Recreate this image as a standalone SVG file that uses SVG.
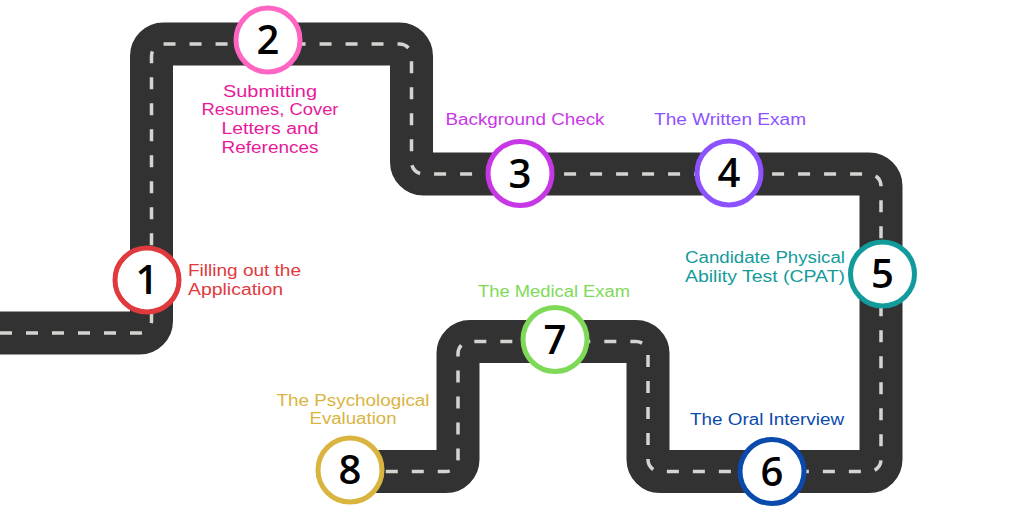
<svg xmlns="http://www.w3.org/2000/svg" width="1024" height="512" viewBox="0 0 1024 512">
  <style>
    .road{fill:none;stroke:#323232;stroke-width:43}
    .lane{fill:none;stroke:#d3d6d0;stroke-width:3.5;stroke-dasharray:12 14}
    .ring{fill:#ffffff;stroke-width:5}
    .num{font-family:"Open Sans","DejaVu Sans",sans-serif;font-weight:600;font-size:40px;fill:#000000;text-anchor:middle}
    .lbl{font-family:"Liberation Sans","Arial",sans-serif;font-size:16px;text-anchor:middle}
    .start{text-anchor:start}
  </style>
  <rect width="1024" height="512" fill="#ffffff"/>
  <g id="connectors">
    <path id="road" class="road" d="M0,333 H139.5 A12,12 0 0 0 151.5,321 V56 A12,12 0 0 1 163.5,44 H399.5 A12,12 0 0 1 411.5,56 V162 A12,12 0 0 0 423.5,174 H869 A12,12 0 0 1 881,186 V459.5 A12,12 0 0 1 869,471.5 H660 A12,12 0 0 1 648,459.5 V353.5 A12,12 0 0 0 636,341.5 H470 A12,12 0 0 0 458,353.5 V459.5 A12,12 0 0 1 446,471.5 H350"/>
    <path id="lane" class="lane" d="M0,333 H139.5 A12,12 0 0 0 151.5,321 V56 A12,12 0 0 1 163.5,44 H399.5 A12,12 0 0 1 411.5,56 V162 A12,12 0 0 0 423.5,174 H869 A12,12 0 0 1 881,186 V459.5 A12,12 0 0 1 869,471.5 H660 A12,12 0 0 1 648,459.5 V353.5 A12,12 0 0 0 636,341.5 H470 A12,12 0 0 0 458,353.5 V459.5 A12,12 0 0 1 446,471.5 H350"/>
  </g>
  <g id="step1">
    <circle class="ring" cx="147" cy="280" r="32" stroke="#e03a3e"/>
    <text class="num" x="147" y="294">1</text>
    <text class="lbl start" x="188" y="276" fill="#e03a3e" textLength="113" lengthAdjust="spacingAndGlyphs">Filling out the</text>
    <text class="lbl start" x="188" y="294.5" fill="#e03a3e" textLength="95" lengthAdjust="spacingAndGlyphs">Application</text>
  </g>
  <g id="step2">
    <circle class="ring" cx="268" cy="40" r="32" stroke="#ff66c4"/>
    <text class="num" x="268" y="54">2</text>
    <text class="lbl" x="270" y="96.5" fill="#e8199a" textLength="94" lengthAdjust="spacingAndGlyphs">Submitting</text>
    <text class="lbl" x="270" y="115" fill="#e8199a" textLength="137" lengthAdjust="spacingAndGlyphs">Resumes, Cover</text>
    <text class="lbl" x="270" y="133.5" fill="#e8199a" textLength="97" lengthAdjust="spacingAndGlyphs">Letters and</text>
    <text class="lbl" x="270" y="152.5" fill="#e8199a" textLength="97" lengthAdjust="spacingAndGlyphs">References</text>
  </g>
  <g id="step3">
    <circle class="ring" cx="520" cy="173.5" r="32" stroke="#c837e6"/>
    <text class="num" x="520" y="187.5">3</text>
    <text class="lbl" x="525" y="125" fill="#c837e6" textLength="159" lengthAdjust="spacingAndGlyphs">Background Check</text>
  </g>
  <g id="step4">
    <circle class="ring" cx="729" cy="173" r="32" stroke="#8c52ff"/>
    <text class="num" x="729" y="187">4</text>
    <text class="lbl" x="730" y="125" fill="#8c52ff" textLength="152" lengthAdjust="spacingAndGlyphs">The Written Exam</text>
  </g>
  <g id="step5">
    <circle class="ring" cx="882.5" cy="274" r="32" stroke="#139b9b"/>
    <text class="num" x="882.5" y="288">5</text>
    <text class="lbl" x="765" y="263" fill="#139b9b" textLength="160" lengthAdjust="spacingAndGlyphs">Candidate Physical</text>
    <text class="lbl" x="765" y="282" fill="#139b9b" textLength="160" lengthAdjust="spacingAndGlyphs">Ability Test (CPAT)</text>
  </g>
  <g id="step6">
    <circle class="ring" cx="772" cy="471.5" r="32" stroke="#0a4aad"/>
    <text class="num" x="772" y="485.5">6</text>
    <text class="lbl" x="767" y="425" fill="#0a4aad" textLength="154" lengthAdjust="spacingAndGlyphs">The Oral Interview</text>
  </g>
  <g id="step7">
    <circle class="ring" cx="555" cy="339.5" r="32" stroke="#7ed957"/>
    <text class="num" x="555" y="353.5">7</text>
    <text class="lbl" x="554" y="297" fill="#7ed957" textLength="152" lengthAdjust="spacingAndGlyphs">The Medical Exam</text>
  </g>
  <g id="step8">
    <circle class="ring" cx="350" cy="470" r="32" stroke="#d9b43f"/>
    <text class="num" x="350" y="484">8</text>
    <text class="lbl" x="353" y="406" fill="#d9b43f" textLength="153" lengthAdjust="spacingAndGlyphs">The Psychological</text>
    <text class="lbl" x="353" y="424" fill="#d9b43f" textLength="87" lengthAdjust="spacingAndGlyphs">Evaluation</text>
  </g>
</svg>
